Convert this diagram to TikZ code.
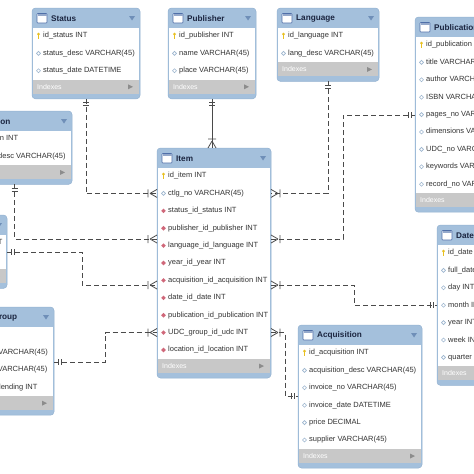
\documentclass[tikz,border=0pt]{standalone}
\usepackage{fontspec}
\setmainfont{Liberation Sans}
\usetikzlibrary{calc}
\definecolor{hdrblue}{HTML}{A4C0DC}
\definecolor{hdrline}{HTML}{93B2D1}
\definecolor{idxgray}{HTML}{C8C8C8}
\definecolor{idxtri}{HTML}{8C8C8C}
\definecolor{hdrtri}{HTML}{6F8FB8}
\definecolor{titlec}{HTML}{1B2540}
\definecolor{rowc}{HTML}{333333}
\definecolor{keyc}{HTML}{E8C020}
\definecolor{colc}{HTML}{9DB6CF}
\definecolor{fkc}{HTML}{D0687A}
\definecolor{linec}{HTML}{4A4A4A}
\definecolor{iconb}{HTML}{4F6FA8}
\tikzset{
 rowtext/.style={font=\fontsize{7.5}{9}\selectfont, text=rowc, inner sep=0pt, anchor=west},
 titletext/.style={font=\fontsize{8.2}{10}\selectfont\bfseries, text=titlec, inner sep=0pt, anchor=west},
 idxtext/.style={font=\fontsize{7}{8}\selectfont, text=white, inner sep=0pt, anchor=west},
 rel/.style={draw=linec, line width=0.9pt, dash pattern=on 5pt off 3pt},
 relsolid/.style={draw=linec, line width=0.9pt},
 endmark/.style={draw=linec, line width=0.8pt},
}
\newcommand\iconkey[2]{\fill[keyc] ({#1},{#2-1.8}) circle (1.5pt); \draw[keyc, line width=1.1pt] ({#1},{#2-1}) -- ({#1},{#2+2.8});}
\newcommand\iconcol[2]{\draw[colc, line width=0.6pt] ({#1-2},{#2}) -- ({#1},{#2-2}) -- ({#1+2},{#2}) -- ({#1},{#2+2}) -- cycle;}
\newcommand\iconfk[2]{\fill[fkc] ({#1-2.3},{#2}) -- ({#1},{#2-2.3}) -- ({#1+2.3},{#2}) -- ({#1},{#2+2.3}) -- cycle;}
\newcommand\dbtable[7]{%
 \pgfmathsetmacro\itop{#3+28+17.4*(#6-1)+9}%
 \pgfmathsetmacro\tbot{\itop+19}%
 \pgfmathsetmacro\tht{\tbot-(#3)}%
 \node[inner sep=0pt, outer sep=0pt, anchor=north west, minimum width=#4pt, minimum height=\tht pt] (#1) at (#2,#3) {};
 \filldraw[fill=hdrblue, draw=hdrline, line width=0.5pt, rounded corners=3.5pt] (#2,#3) rectangle ({#2+#4},\tbot);
 \fill[white] ({#2+0.8},{#3+20}) rectangle ({#2+#4-0.8},\itop);
 \fill[idxgray] ({#2+0.8},\itop) rectangle ({#2+#4-0.8},{\itop+14});
 \filldraw[fill=white, draw=iconb, line width=0.6pt, rounded corners=0.8pt] ({#2+5},{#3+5.5}) rectangle ({#2+15},{#3+15});
 \fill[iconb!60] ({#2+5.5},{#3+6}) rectangle ({#2+14.5},{#3+8});
 \node[titletext] at ({#2+19},{#3+10.5}) {#5};
 \fill[hdrtri] ({#2+#4-11},{#3+8}) -- ({#2+#4-5},{#3+8}) -- ({#2+#4-8},{#3+12.5}) -- cycle;
 \node[idxtext] at ({#2+5},{\itop+7}) {Indexes};
 \fill[idxtri] ({#2+#4-12},{\itop+4.5}) -- ({#2+#4-7},{\itop+7}) -- ({#2+#4-12},{\itop+9.5}) -- cycle;
 \foreach \ic/\tx [count=\i from 0] in {#7} {%
   \pgfmathsetmacro\ry{#3+28+17.4*\i}%
   \csname icon\ic\endcsname{#2+6.5}{\ry}%
   \node[rowtext] at ({#2+11},\ry) {\tx};
 }%
}
\newcommand\footL[1]{\draw[endmark] ($(#1)+(-7,0)$) -- ($(#1)+(0,-4)$) ($(#1)+(-7,0)$) -- ($(#1)+(0,4)$) ($(#1)+(-9,-4)$) -- ($(#1)+(-9,4)$);}
\newcommand\footR[1]{\draw[endmark] ($(#1)+(7,0)$) -- ($(#1)+(0,-4)$) ($(#1)+(7,0)$) -- ($(#1)+(0,4)$) ($(#1)+(9,-4)$) -- ($(#1)+(9,4)$);}
\newcommand\footT[1]{\draw[endmark] ($(#1)+(0,-7)$) -- ($(#1)+(-4,0)$) ($(#1)+(0,-7)$) -- ($(#1)+(4,0)$) ($(#1)+(-4,-9)$) -- ($(#1)+(4,-9)$);}
\newcommand\barsD[1]{\draw[endmark] ($(#1)+(-3,4)$) -- ($(#1)+(3,4)$) ($(#1)+(-3,7)$) -- ($(#1)+(3,7)$);}
\newcommand\barsR[1]{\draw[endmark] ($(#1)+(4,-3)$) -- ($(#1)+(4,3)$) ($(#1)+(7,-3)$) -- ($(#1)+(7,3)$);}
\newcommand\barsL[1]{\draw[endmark] ($(#1)+(-4,-3)$) -- ($(#1)+(-4,3)$) ($(#1)+(-7,-3)$) -- ($(#1)+(-7,3)$);}
\begin{document}
\begin{tikzpicture}[x=1pt, y=-1pt]
\useasboundingbox (0,0) rectangle (474,474);
\fill[white] (0,0) rectangle (474,474);
\clip (0,0) rectangle (474,474);
\dbtable{status}{32}{8}{108}{Status}{3}{key/id\_status INT, col/status\_desc VARCHAR(45), col/status\_date DATETIME}
\dbtable{publisher}{168}{8}{88}{Publisher}{3}{key/id\_publisher INT, col/name VARCHAR(45), col/place VARCHAR(45)}
\dbtable{language}{277}{8}{102}{Language}{2}{key/id\_language INT, col/lang\_desc VARCHAR(45)}
\dbtable{publication}{415}{17}{125}{Publication}{9}{key/id\_publication INT, col/title VARCHAR(45), col/author VARCHAR(45), col/ISBN VARCHAR(45), col/pages\_no VARCHAR(45), col/dimensions VARCHAR(45), col/UDC\_no VARCHAR(45), col/keywords VARCHAR(45), col/record\_no VARCHAR(45)}
\dbtable{location}{-43}{111}{115}{Location}{2}{key/id\_location INT, col/location\_desc VARCHAR(45)}
\dbtable{year}{-47.5}{215}{54.5}{Year}{2}{key/id\_year INT, col/year INT}
\dbtable{item}{157}{148}{114}{Item}{11}{key/id\_item INT, col/ctlg\_no VARCHAR(45), fk/status\_id\_status INT, fk/publisher\_id\_publisher INT, fk/language\_id\_language INT, fk/year\_id\_year INT, fk/acquisition\_id\_acquisition INT, fk/date\_id\_date INT, fk/publication\_id\_publication INT, fk/UDC\_group\_id\_udc INT, fk/location\_id\_location INT}
\dbtable{udcgroup}{-47.5}{307}{101.5}{UDC\_group}{4}{key/id\_udc INT, col/udc\_code VARCHAR(45), col/udc\_desc VARCHAR(45), col/period\_of\_lending INT}
\dbtable{acquisition}{298}{325}{124}{Acquisition}{6}{key/id\_acquisition INT, col/acquisition\_desc VARCHAR(45), col/invoice\_no VARCHAR(45), col/invoice\_date DATETIME, col/price DECIMAL, col/supplier VARCHAR(45)}
\dbtable{date}{437}{225}{100}{Date}{7}{key/id\_date INT, col/full\_date DATE, col/day INT, col/month INT, col/year INT, col/week INT, col/quarter INT}
% connector end points
\coordinate (it-l1) at (157,193.4);
\coordinate (it-l2) at (157,239);
\coordinate (it-l3) at (157,285);
\coordinate (it-l4) at (157,332.5);
\coordinate (it-r1) at (271,193.4);
\coordinate (it-r2) at (271,239);
\coordinate (it-r3) at (271,285);
\coordinate (it-r4) at (271,332.5);
\coordinate (it-t) at (publisher.south |- item.north);
\coordinate (yr-r) at (7,252);
\coordinate (ud-r) at (54,362);
\coordinate (pu-l) at (415,115);
\coordinate (dt-l) at (437,305);
\coordinate (aq-l) at (298,396);
% connectors
\draw[rel] (status.south) |- (it-l1);
\draw[relsolid] (publisher.south) -- (it-t);
\draw[rel] (language.south) |- (it-r1);
\draw[rel] (location.south) |- (it-l2);
\draw[rel] (yr-r) -- ++(75,0) |- (it-l3);
\draw[rel] (ud-r) -- ++(51,0) |- (it-l4);
\draw[rel] (it-r2) -- ++(72,0) |- (pu-l);
\draw[rel] (it-r3) -- ++(83,0) |- (dt-l);
\draw[rel] (it-r4) -- ++(14,0) |- (aq-l);
% end marks
\barsD{status.south}
\barsD{publisher.south}
\barsD{language.south}
\barsD{location.south}
\footT{it-t}
\footL{it-l1}\footL{it-l2}\footL{it-l3}\footL{it-l4}
\footR{it-r1}\footR{it-r2}\footR{it-r3}\footR{it-r4}
\barsR{yr-r}
\barsR{ud-r}
\barsL{pu-l}
\barsL{dt-l}
\barsL{aq-l}
\end{tikzpicture}
\end{document}
